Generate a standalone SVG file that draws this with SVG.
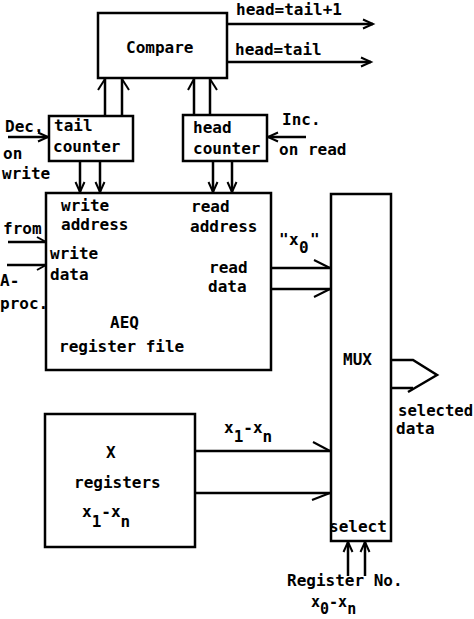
<svg xmlns="http://www.w3.org/2000/svg" width="474" height="619" viewBox="0 0 474 619">
<defs>
<style>
.box{fill:#fff;stroke:#000;stroke-width:2.5}
.ln{fill:none;stroke:#000;stroke-width:2.5}
.bb{fill:none;stroke:#000;stroke-width:2}
text{font-family:"DejaVu Sans Mono","Liberation Mono",monospace;font-size:16px;font-weight:bold;fill:#000}
.sub{font-size:15px}
</style>
<marker id="ah" markerUnits="userSpaceOnUse" markerWidth="14" markerHeight="12" refX="11" refY="6" orient="auto">
<path d="M1,1.5 L11,6 L1,10.5" fill="none" stroke="#000" stroke-width="2"/>
</marker>
</defs>
<rect width="474" height="619" fill="#fff"/>

<g id="connectors">
<!-- compare outputs -->
<line class="ln" x1="227" y1="24" x2="373" y2="24" marker-end="url(#ah)"/>
<line class="ln" x1="227" y1="62" x2="371" y2="62" marker-end="url(#ah)"/>
<!-- tail counter to compare -->
<line class="ln" x1="105" y1="116" x2="105" y2="79"/>
<path class="bb" d="M98,90 L105,79"/>
<line class="ln" x1="122" y1="116" x2="122" y2="79"/>
<path class="bb" d="M129,90 L122,79"/>
<!-- head counter to compare -->
<line class="ln" x1="194" y1="115" x2="194" y2="79"/>
<path class="bb" d="M188,90 L194,79"/>
<line class="ln" x1="210" y1="115" x2="210" y2="79"/>
<path class="bb" d="M217,90 L210,79"/>
<!-- Dec / Inc -->
<line class="ln" x1="8" y1="137" x2="48" y2="137" marker-end="url(#ah)"/>
<line class="ln" x1="306" y1="137" x2="268" y2="137" marker-end="url(#ah)"/>
<!-- counters down to AEQ -->
<line class="ln" x1="80" y1="161" x2="80" y2="192" marker-end="url(#ah)"/>
<line class="ln" x1="100" y1="161" x2="100" y2="192" marker-end="url(#ah)"/>
<line class="ln" x1="213" y1="161" x2="213" y2="192" marker-end="url(#ah)"/>
<line class="ln" x1="232" y1="161" x2="232" y2="192" marker-end="url(#ah)"/>
<!-- from A-proc -->
<line class="ln" x1="8" y1="242" x2="46" y2="242"/>
<path class="bb" d="M37,237 L46,242"/>
<line class="ln" x1="7" y1="265" x2="46" y2="265"/>
<path class="bb" d="M37,270 L46,265"/>
<!-- read data to MUX -->
<line class="ln" x1="271" y1="268" x2="330" y2="268"/>
<path class="bb" d="M314,260 L330,268"/>
<line class="ln" x1="271" y1="289" x2="330" y2="289"/>
<path class="bb" d="M314,297 L330,289"/>
<!-- X registers to MUX -->
<line class="ln" x1="195" y1="451" x2="330" y2="451"/>
<path class="bb" d="M313,442 L330,451"/>
<line class="ln" x1="195" y1="493" x2="330" y2="493"/>
<path class="bb" d="M312,500 L330,493"/>
<!-- MUX output hollow arrow -->
<path class="ln" d="M391,360 L413,360 L437,375 L408,392"/>
<path class="ln" d="M391,388 L413,388"/>
<!-- register no. -->
<line class="ln" x1="348" y1="576" x2="348" y2="542" marker-end="url(#ah)"/>
<line class="ln" x1="365" y1="576" x2="365" y2="542" marker-end="url(#ah)"/>
</g>

<g id="compare">
<rect class="box" x="98" y="13" width="129" height="65"/>
<text x="126" y="53">Compare</text>
</g>
<g id="compare-labels">
<text x="236" y="15">head=tail+1</text>
<text x="235" y="55">head=tail</text>
</g>

<g id="tail-counter">
<rect class="box" x="49" y="116" width="84" height="45"/>
<text x="54" y="131">tail</text>
<text x="53" y="152">counter</text>
</g>
<g id="dec-label">
<text x="5" y="132">Dec.</text>
<text x="3" y="159">on</text>
<text x="2" y="179">write</text>
</g>

<g id="head-counter">
<rect class="box" x="183" y="115" width="84" height="46"/>
<text x="193" y="133">head</text>
<text x="193" y="154">counter</text>
</g>
<g id="inc-label">
<text x="282" y="125">Inc.</text>
<text x="279" y="155">on read</text>
</g>

<g id="aeq">
<rect class="box" x="46" y="193" width="225" height="177"/>
<text x="61" y="211">write</text>
<text x="61" y="230">address</text>
<text x="191" y="212">read</text>
<text x="190" y="232">address</text>
<text x="50" y="259">write</text>
<text x="50" y="280">data</text>
<text x="209" y="273">read</text>
<text x="208" y="292">data</text>
<text x="110" y="328">AEQ</text>
<text x="59" y="352">register file</text>
</g>
<g id="aproc-label">
<text x="3" y="234">from</text>
<text x="0" y="286">A-</text>
<text x="0" y="309">proc.</text>
</g>
<g id="x0-label">
<text x="279" y="245">"<tspan x="289">x</tspan><tspan x="299" y="253">0</tspan><tspan x="310" y="245">"</tspan></text>
</g>

<g id="mux">
<rect class="box" x="331" y="194" width="60" height="347"/>
<text x="343" y="365">MUX</text>
<text x="329" y="532">select</text>
</g>
<g id="selected-label">
<text x="398" y="416" textLength="75" lengthAdjust="spacingAndGlyphs">selected</text>
<text x="396" y="434">data</text>
</g>

<g id="x-registers">
<rect class="box" x="45" y="414" width="150" height="133"/>
<text x="106" y="458">X</text>
<text x="74" y="488">registers</text>
<text x="82" y="517">x<tspan y="527">1</tspan><tspan y="517">-x</tspan><tspan y="527">n</tspan></text>
</g>
<g id="x1xn-label">
<text x="224" y="433">x<tspan y="442">1</tspan><tspan y="433">-x</tspan><tspan y="442">n</tspan></text>
</g>

<g id="register-no">
<text x="287" y="586">Register No.</text>
<text class="sub" x="311" y="607">x<tspan y="614">0</tspan><tspan y="607">-x</tspan><tspan y="614">n</tspan></text>
</g>
</svg>
